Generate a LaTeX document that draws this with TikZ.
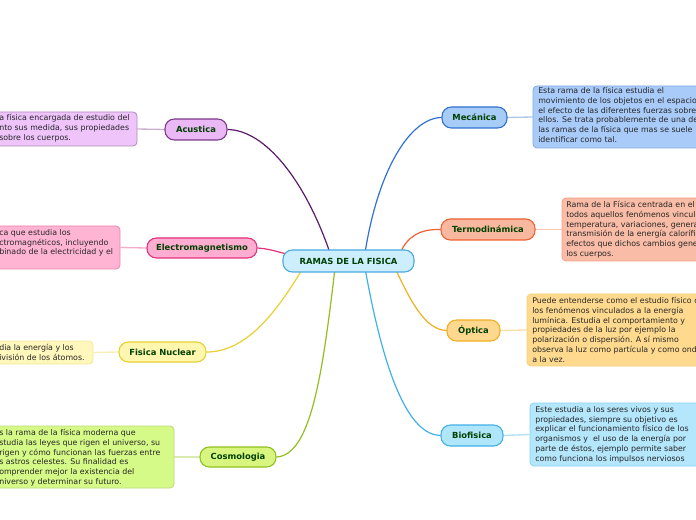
\documentclass[tikz,border=0pt]{standalone}
\usepackage{fontspec}
\setmainfont{DejaVu Sans}
\pgfdeclarelayer{bg}
\pgfsetlayers{bg,main}
\begin{document}
\begin{tikzpicture}[x=0.75pt,y=-0.75pt,
 topic/.style={draw,line width=0.8pt,rounded corners=7pt,inner sep=0pt,font=\fontsize{6.3}{7}\selectfont\bfseries,text=green!25!black},
 descbox/.style={draw,line width=0.6pt,rounded corners=3pt,inner sep=0pt},
 desc/.style={anchor=north west,inner sep=0pt,align=left,font=\fontsize{5.9}{7.35}\selectfont,text=black!85},
 link/.style={line width=0.9pt},
 thin/.style={line width=1pt}]
\definecolor{cb}{HTML}{CDEEFF}\definecolor{cbd}{HTML}{4AA8E0}
\definecolor{ac}{HTML}{E9B8F5}\definecolor{acd}{HTML}{7A3A8A}\definecolor{acl}{HTML}{EEC4FB}\definecolor{acw}{HTML}{5C1A6B}
\definecolor{el}{HTML}{FFADD0}\definecolor{eld}{HTML}{E0307A}\definecolor{ell}{HTML}{FFB4D4}
\definecolor{nu}{HTML}{FFF6B0}\definecolor{nud}{HTML}{E8D030}\definecolor{nul}{HTML}{FFF7BC}
\definecolor{co}{HTML}{D8F580}\definecolor{cod}{HTML}{90C020}\definecolor{col}{HTML}{D6FA88}
\definecolor{me}{HTML}{A8CCF8}\definecolor{med}{HTML}{3070D0}\definecolor{mel}{HTML}{A9CBF9}
\definecolor{te}{HTML}{F8B8A0}\definecolor{ted}{HTML}{F06030}\definecolor{tel}{HTML}{F9BCA6}
\definecolor{op}{HTML}{FFD890}\definecolor{opd}{HTML}{F0B020}\definecolor{opl}{HTML}{FFDA8E}
\definecolor{bi}{HTML}{B0E6FC}\definecolor{bid}{HTML}{40B0E8}\definecolor{bil}{HTML}{B4E6FC}
\useasboundingbox (0,0) rectangle (696,520);
\clip (0,0) rectangle (696,520);
% description boxes
\node[descbox,draw=acd!60,fill=acl,minimum width=110.25pt,minimum height=25.5pt] (acub) at (63.5,129) {};
\node[descbox,draw=eld!60,fill=ell,minimum width=97.5pt,minimum height=32.25pt] (eleb) at (55,247.5) {};
\node[descbox,draw=nud!50,fill=nul,minimum width=77.25pt,minimum height=17.25pt] (nucb) at (41.5,352.5) {};
\node[descbox,draw=cod!60,fill=col,minimum width=138pt,minimum height=46.5pt] (cosb) at (82,457) {};
\node[descbox,draw=med!60,fill=mel,minimum width=132.75pt,minimum height=46.5pt] (mecb) at (621.5,117) {};
\node[descbox,draw=ted!60,fill=tel,minimum width=111pt,minimum height=47.25pt] (terb) at (636,229.5) {};
\node[descbox,draw=opd!60,fill=opl,minimum width=137.25pt,minimum height=54pt] (optb) at (618.5,330) {};
\node[descbox,draw=bid!60,fill=bil,minimum width=135pt,minimum height=47.25pt] (biob) at (620,434.5) {};
\node[desc] (acut) at (-1,114) {a física encargada de estudio del\\nto sus medida, sus propiedades\\sobre los cuerpos.};
\node[desc] (elet) at (-1,229) {ca que estudia los\\ctromagnéticos, incluyendo\\binado de la electricidad y el};
\node[desc] (nuct) at (-1,344) {dia la energía y los\\ivisión de los átomos.};
\node[desc] (cost) at (-1,429) {s la rama de la física moderna que\\studia las leyes que rigen el universo, su\\rigen y cómo funcionan las fuerzas entre\\s astros celestes. Su finalidad es\\omprender mejor la existencia del\\niverso y determinar su futuro.};
\node[desc] (mect) at (538,87) {Esta rama de la física estudia el\\movimiento de los objetos en el espacio\\el efecto de las diferentes fuerzas sobre\\ellos. Se trata probablemente de una de\\las ramas de la física que mas se suele\\identificar como tal.};
\node[desc] (tert) at (566,201) {Rama de la Física centrada en el\\todos aquellos fenómenos vincul\\temperatura, variaciones, genera\\transmisión de la energía calorífi\\efectos que dichos cambios gene\\los cuerpos.};
\node[desc] (optt) at (532,297) {Puede entenderse como el estudio físico d\\los fenómenos vinculados a la energía\\lumínica. Estudia el comportamiento y\\propiedades de la luz por ejemplo la\\polarización o dispersión. A sí mismo\\observa la luz como partícula y como onda\\a la vez.};
\node[desc] (biot) at (535,406) {Este estudia a los seres vivos y sus\\propiedades, siempre su objetivo es\\explicar el funcionamiento físico de los\\organismos y\ \ el uso de la energía por\\parte de éstos, ejemplo permite saber\\como funciona los impulsos nerviosos};
% topics
\node[topic,draw=cbd,fill=cb,minimum width=98.25pt,minimum height=16.5pt] (root) at (348.5,261) {RAMAS DE LA FISICA};
\node[topic,draw=acd,fill=ac,minimum width=46.5pt,minimum height=15.75pt] (acu) at (196,129.5) {Acustica};
\node[topic,draw=eld,fill=el,minimum width=82.5pt,minimum height=15pt] (ele) at (202,248) {Electromagnetismo};
\node[topic,draw=nud,fill=nu,minimum width=65.25pt,minimum height=15pt] (nuc) at (162.5,352) {Fisica Nuclear};
\node[topic,draw=cod,fill=co,minimum width=57pt,minimum height=15pt] (cos) at (238,457) {Cosmologia};
\node[topic,draw=med,fill=me,minimum width=48.75pt,minimum height=15.75pt] (mec) at (474.5,117.5) {Mecánica};
\node[topic,draw=ted,fill=te,minimum width=70.5pt,minimum height=15.75pt] (ter) at (488,229.5) {Termodinámica};
\node[topic,draw=opd,fill=op,minimum width=39.75pt,minimum height=15.75pt] (opt) at (473.5,330.5) {Óptica};
\node[topic,draw=bid,fill=bi,minimum width=46.5pt,minimum height=15.75pt] (bio) at (472,435.5) {Biofisica};
% attachment points
\coordinate (rAcu) at (330,253); \coordinate (rEle) at (290,255);
\coordinate (rNuc) at (303,268); \coordinate (rCos) at (335,268);
\coordinate (rMec) at (365,253); \coordinate (rTer) at (400,253);
\coordinate (rOpt) at (395,268); \coordinate (rBio) at (365,268);
\begin{pgfonlayer}{bg}
\draw[thin,acd!40] (acub.east) -- (acu.west);
\draw[thin,eld!40] (eleb.east) -- (ele.west);
\draw[thin,nud!35] (nucb.east) -- (nuc.west);
\draw[thin,cod!35] (cosb.east) -- (cos.west);
\draw[thin,med!40] (mec.east) -- (mecb.west);
\draw[thin,ted!35] (ter.east) -- (terb.west);
\draw[thin,opd!40] (opt.east) -- (optb.west);
\draw[thin,bid!40] (bio.east) -- (biob.west);
\draw[link,acw] (acu.east) .. controls (265,130) and (305,180) .. (rAcu);
\draw[link,eld] (ele.east) .. controls (268,249) .. (rEle);
\draw[link,nud] (nuc.east) .. controls (245,352) and (275,315) .. (rNuc);
\draw[link,cod] (cos.east) .. controls (310,455) and (322,380) .. (rCos);
\draw[link,med] (mec.west) .. controls (410,118) and (378,170) .. (rMec);
\draw[link,ted] (ter.west) .. controls (420,229) and (408,236) .. (rTer);
\draw[link,opd] (opt.west) .. controls (425,330) and (410,300) .. (rOpt);
\draw[link,bid] (bio.west) .. controls (410,435) and (385,380) .. (rBio);
\end{pgfonlayer}
\end{tikzpicture}
\end{document}
